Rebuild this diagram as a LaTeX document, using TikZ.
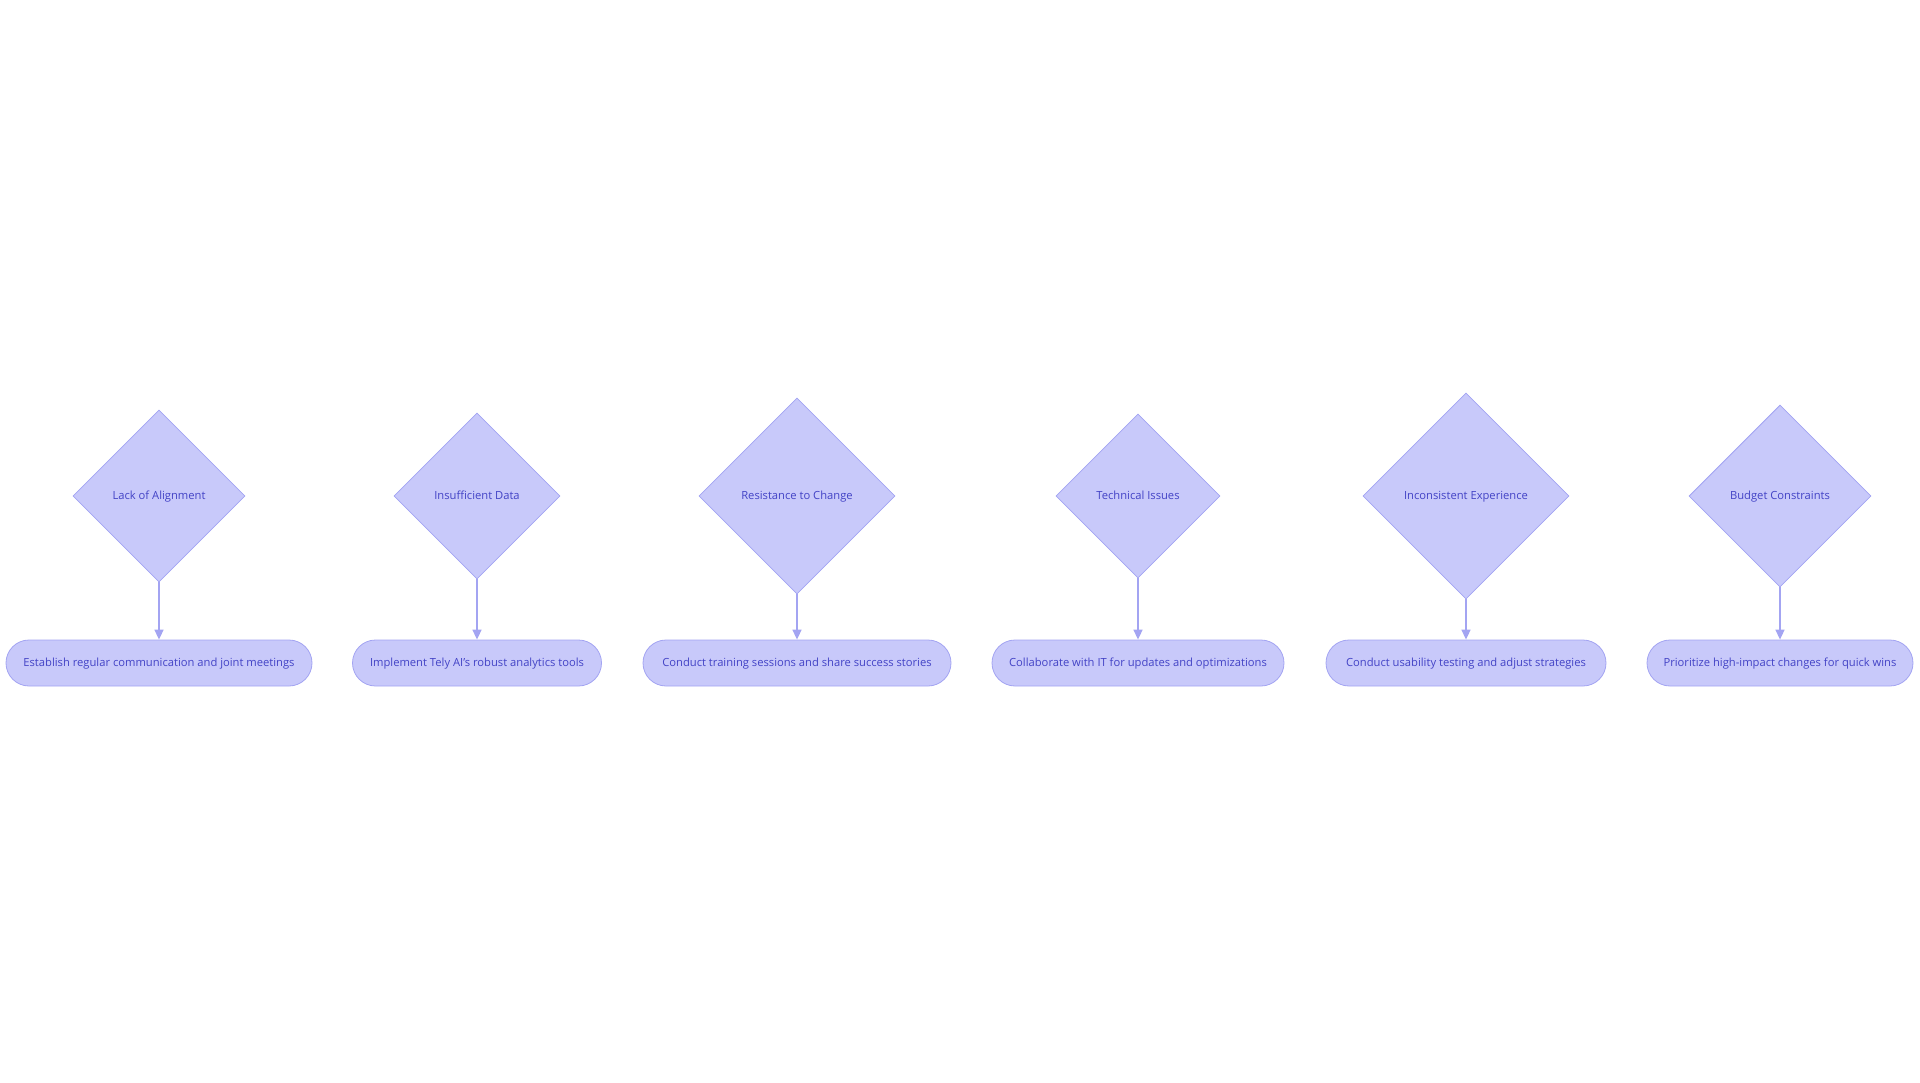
\documentclass[tikz,border=0pt]{standalone}
\usepackage{fontspec}
\setmainfont{Open Sans}
\usetikzlibrary{shapes.geometric,arrows.meta}
\definecolor{issuefill}{HTML}{C8C9FA}
\definecolor{issueline}{HTML}{A3A4F2}
\definecolor{issuetext}{HTML}{4343C6}
\begin{document}
\begin{tikzpicture}[x=1pt,y=-1pt,
    issue/.style={diamond, aspect=1, inner sep=0pt, fill=issuefill, draw=issueline,
        line width=0.8pt, text=issuetext, text height=8pt, text depth=2pt,
        font=\fontsize{11.2}{13}\selectfont},
    fix/.style={rectangle, rounded corners=23pt, minimum height=46pt, inner sep=0pt,
        fill=issuefill, draw=issueline, line width=0.8pt, text=issuetext,
        text height=8pt, text depth=2pt, font=\fontsize{11.2}{13}\selectfont},
    link/.style={draw=issueline, line width=1.6pt, -{Triangle[width=9pt,length=10pt]}}]
            \useasboundingbox (0,0) rectangle (1920,1083);

            % problems
            \node[issue, minimum size=172pt] (align) at (159,496) {Lack of Alignment};
            \node[issue, minimum size=166pt] (data) at (477,496) {Insufficient Data};
            \node[issue, minimum size=196pt] (change) at (797,496) {Resistance to Change};
            \node[issue, minimum size=164pt] (tech) at (1138,496) {Technical Issues};
            \node[issue, minimum size=206pt] (exper) at (1466,496) {Inconsistent Experience};
            \node[issue, minimum size=182pt] (budget) at (1780,496) {Budget Constraints};

            % solutions
            \node[fix, minimum width=306pt] (meet) at (159,663) {Establish regular communication and joint meetings};
            \node[fix, minimum width=249pt] (tools) at (477,663) {Implement Tely AI's robust analytics tools};
            \node[fix, minimum width=308pt] (train) at (797,663) {Conduct training sessions and share success stories};
            \node[fix, minimum width=292pt] (itfix) at (1138,663) {Collaborate with IT for updates and optimizations};
            \node[fix, minimum width=280pt] (test) at (1466,663) {Conduct usability testing and adjust strategies};
            \node[fix, minimum width=266pt] (wins) at (1780,663) {Prioritize high-impact changes for quick wins};

            \draw[link] (align) -- (meet);
            \draw[link] (data) -- (tools);
            \draw[link] (change) -- (train);
            \draw[link] (tech) -- (itfix);
            \draw[link] (exper) -- (test);
            \draw[link] (budget) -- (wins);
        \end{tikzpicture}
\end{document}
